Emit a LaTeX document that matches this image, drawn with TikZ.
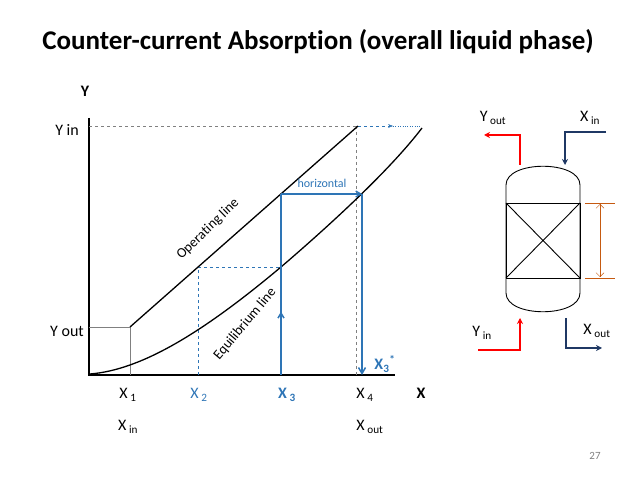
\documentclass[tikz,border=0pt]{standalone}
\usepackage{fontspec}
\setmainfont{Carlito}[Ligatures=NoCommon]
\usetikzlibrary{arrows.meta,decorations.markings}
\definecolor{bl}{RGB}{46,117,182}
\definecolor{nv}{RGB}{31,56,100}
\definecolor{br}{RGB}{197,90,17}
\tikzset{lbl/.style={font=\fontsize{16}{18}\selectfont,inner sep=0pt},
 gd/.style={gray,dashed,thin},
 bd/.style={bl,dashed,thin},
 flow/.style={line width=1.1pt,-{Stealth[length=6pt,width=6pt]}},
 midup/.style={postaction={decorate},decoration={markings,mark=at position #1 with {\arrow{Straight Barb[length=5pt,width=6pt]}}}}}
\begin{document}
\begin{tikzpicture}[x=1pt,y=-1pt]
\useasboundingbox (0,0) rectangle (638,478);
\node[font=\bfseries\fontsize{27}{30}\selectfont] (t) at (318,42) {Counter-current Absorption (overall liquid phase)};
% axes
\coordinate (o) at (89,375);
\draw[line width=1.6pt] (89,118) -- (o) -- (395,375);
\node[lbl,font=\bfseries\fontsize{16}{18}\selectfont] (ay) at (85,91) {Y};
\node[lbl,font=\bfseries\fontsize{16}{18}\selectfont] (ax) at (421,393) {X};
\node[lbl] (yin) at (67,130) {Y in};
\node[lbl] (yout) at (67,331) {Y out};
% guide lines
\draw[gd] (89,126) -- (358,126);
\draw[bd,-{Stealth[length=5pt]}] (358,126) -- (393,126);
\draw[bl,dotted,thin] (393,126) -- (420,126);
\draw[gray,thin] (89,327) -- (130,327) -- (130,375);
\draw[gd] (356,126) -- (356,375);
\draw[bd] (198,375) -- (198,267) -- (281,267);
% curves
\draw[line width=1.3pt] (130,327) -- (358,126);
\draw[line width=1.3pt] (90,374) .. controls (140,370) and (200,335) .. (281,267) .. controls (330,225) and (390,170) .. (422,128);
\node[lbl,rotate=44,font=\fontsize{14}{16}\selectfont] (op) at (208,229) {Operating line};
\node[lbl,rotate=50,font=\fontsize{14}{16}\selectfont] (eq) at (245,324) {Equilibrium line};
% steps
\draw[bl,line width=1.5pt,midup=0.35] (281,375) -- (281,194);
\draw[bl,line width=1.3pt,-{Straight Barb[length=5pt,width=6pt]}] (281,194) -- (362,194);
\draw[bl,line width=1.5pt,-{Straight Barb[length=6pt,width=7pt]}] (362,194) -- (362,375);
\node[lbl,bl,font=\fontsize{12}{14}\selectfont] (hz) at (322,183) {horizontal};
\node[lbl,bl,font=\bfseries\fontsize{16}{18}\selectfont] (x3s) at (385,364) {X\textsubscript{3}\textsuperscript{*}};
% x labels
\node[lbl] (x1) at (128,395) {X\,\textsubscript{1}};
\node[lbl,bl] (x2) at (199,395) {X\,\textsubscript{2}};
\node[lbl,bl,font=\bfseries\fontsize{16}{18}\selectfont] (x3) at (287,395) {X\,\textsubscript{3}};
\node[lbl] (x4) at (365,395) {X\,\textsubscript{4}};
\node[lbl] (xin) at (128,427) {X\,\textsubscript{in}};
\node[lbl] (xout) at (370,427) {X\,\textsubscript{out}};
% column
\draw[line width=0.9pt] (506,185) .. controls (506,160) and (580,160) .. (580,185) -- (580,293) .. controls (580,318) and (506,318) .. (506,293) -- cycle;
\draw[line width=0.9pt] (506,203) rectangle (580,278);
\draw[line width=0.9pt] (506,203) -- (580,278) (580,203) -- (506,278);
\draw[br] (585,203) -- (615,203) (585,278) -- (615,278);
\draw[br,{Straight Barb[length=4pt]}-{Straight Barb[length=4pt]}] (600,204) -- (600,277);
\draw[red,flow] (520,165) -- (520,135) -- (484,135);
\draw[nv,flow] (606,132) -- (565,132) -- (565,165);
\draw[red,flow] (478,350) -- (520,350) -- (520,318);
\draw[nv,flow] (566,318) -- (566,348) -- (602,348);
\node[lbl] (cyo) at (493,118) {Y\,\textsubscript{out}};
\node[lbl] (cxi) at (590,118) {X\,\textsubscript{in}};
\node[lbl] (cyi) at (482,333) {Y\,\textsubscript{in}};
\node[lbl] (cxo) at (597,331) {X\,\textsubscript{out}};
\node[gray,font=\fontsize{11}{13}\selectfont] (pg) at (595,456) {27};
\end{tikzpicture}
\end{document}
